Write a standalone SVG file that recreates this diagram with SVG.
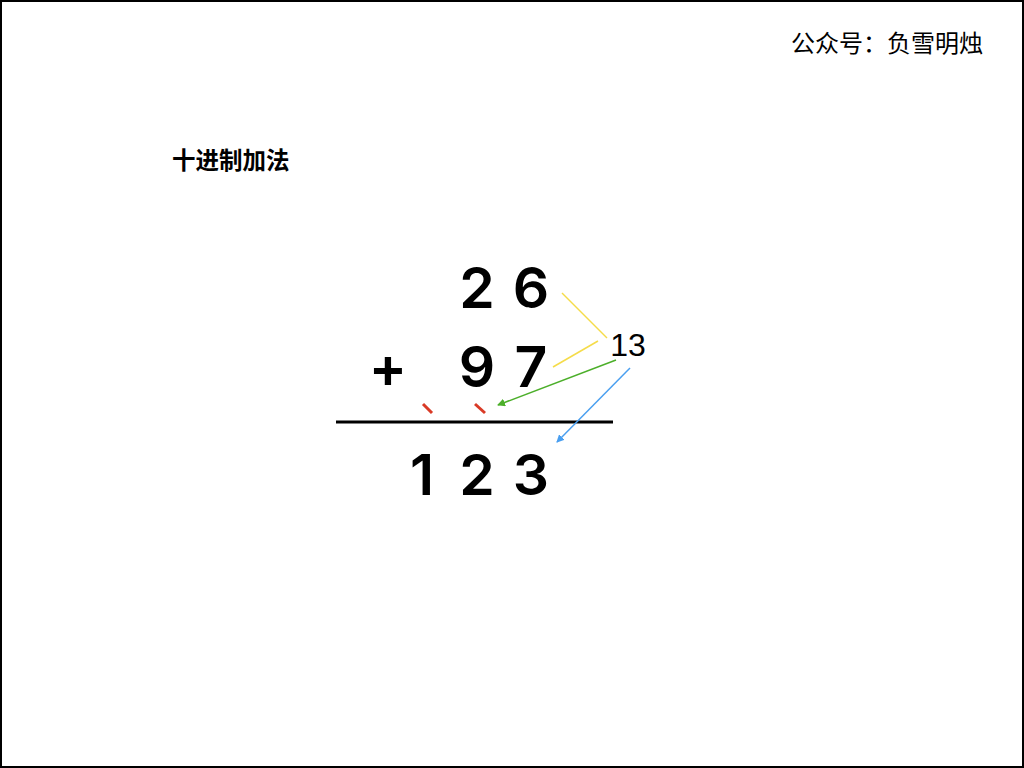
<svg xmlns="http://www.w3.org/2000/svg" width="1024" height="768" viewBox="0 0 1024 768">
<style>
.d{font-family:Inter,"Liberation Sans",Arial,sans-serif;font-size:57px;font-weight:600;text-anchor:middle;fill:#000}
.t{font-family:"Liberation Sans","Noto Sans CJK SC",sans-serif;fill:#000}
</style>
<defs>
<marker id="ag" markerWidth="8" markerHeight="8" refX="7" refY="4" orient="auto" markerUnits="userSpaceOnUse"><path d="M0,0 L8,4 L0,8 Z" fill="#4caf2a"/></marker>
<marker id="ab" markerWidth="8" markerHeight="8" refX="7" refY="4" orient="auto" markerUnits="userSpaceOnUse"><path d="M0,0 L8,4 L0,8 Z" fill="#4a9ff0"/></marker>
</defs>
<rect x="1" y="1" width="1022" height="766" fill="#fff" stroke="#000" stroke-width="2"/>
<text class="t" x="791" y="52" font-size="24">公众号：负雪明烛</text>
<text class="t" x="172" y="169" font-size="23.5" font-weight="bold">十进制加法</text>
<g id="row1">
<text class="d" x="477" y="308">2</text>
<text class="d" x="531" y="308">6</text>
</g>
<g id="row2">
<text class="d" x="388" y="387">+</text>
<text class="d" x="477" y="387">9</text>
<text class="d" x="531" y="387">7</text>
</g>
<g id="sum">
<line x1="336" y1="422" x2="613" y2="422" stroke="#000" stroke-width="3"/>
<text class="d" x="422" y="495">1</text>
<text class="d" x="477" y="495">2</text>
<text class="d" x="531" y="495">3</text>
</g>
<g id="carry" stroke="#d93a26" stroke-width="3">
<line x1="423" y1="404" x2="432" y2="413"/>
<line x1="475" y1="404" x2="485" y2="413"/>
</g>
<g id="n13">
<text class="t" x="628" y="356" font-size="32" text-anchor="middle">13</text>
</g>
<g id="connectors" fill="none" stroke-width="1.5">
<line x1="562" y1="293" x2="607" y2="338" stroke="#f5dc4a"/>
<line x1="553" y1="367" x2="598" y2="341" stroke="#f5dc4a"/>
<line x1="616" y1="360" x2="498" y2="405" stroke="#4caf2a" marker-end="url(#ag)"/>
<line x1="630" y1="368" x2="557" y2="442" stroke="#4a9ff0" marker-end="url(#ab)"/>
</g>
</svg>
